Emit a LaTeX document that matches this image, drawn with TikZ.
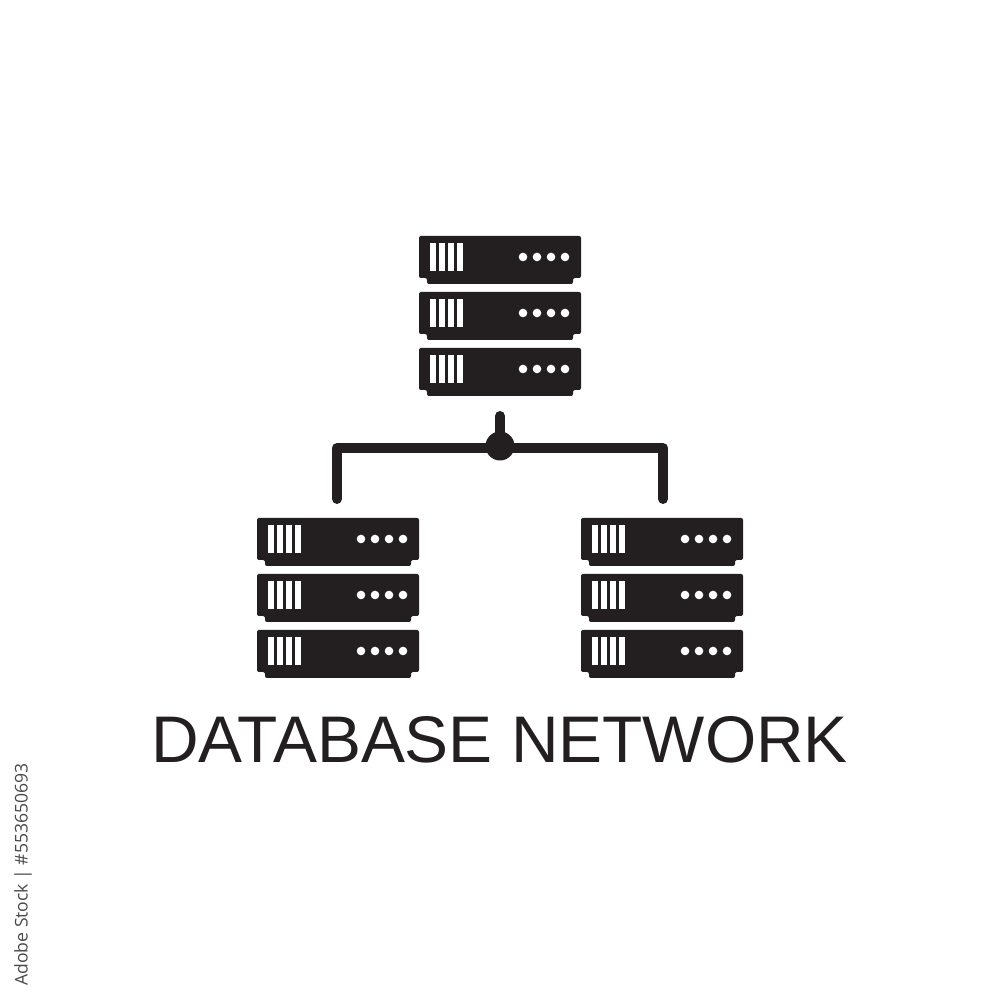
\documentclass[tikz,border=0pt]{standalone}
\usepackage{fontspec}
\setmainfont{Liberation Sans}
\newfontfamily\idfont{Open Sans}
\definecolor{rackblack}{HTML}{231F20}
\definecolor{idgrey}{HTML}{4A4A4A}
\tikzset{
  link/.style = {rackblack, line width=1mm, line cap=round, line join=round},
  rackunit/.pic = {
    \fill[rackblack, rounded corners=0.2mm] (0,0) -- (1.62,0) -- (1.62,-0.42) -- (1.54,-0.42)
      -- (1.54,-0.48) -- (0.08,-0.48) -- (0.08,-0.42) -- (0,-0.42) -- cycle;
    \fill[white] (0.105,-0.07) rectangle (0.165,-0.35);
    \fill[white] (0.195,-0.07) rectangle (0.255,-0.35);
    \fill[white] (0.285,-0.07) rectangle (0.345,-0.35);
    \fill[white] (0.375,-0.07) rectangle (0.435,-0.35);
    \fill[white] (1.04,-0.21) circle (0.043);
    \fill[white] (1.18,-0.21) circle (0.043);
    \fill[white] (1.32,-0.21) circle (0.043);
    \fill[white] (1.46,-0.21) circle (0.043);
  }
}
\begin{document}
\begin{tikzpicture}
\useasboundingbox (0,0) rectangle (10,10);
\fill[white] (0,0) rectangle (10,10);

% top stack
\pic at (4.19,7.64) {rackunit};
\pic at (4.19,7.08) {rackunit};
\pic at (4.19,6.52) {rackunit};

% left stack
\pic at (2.57,4.82) {rackunit};
\pic at (2.57,4.26) {rackunit};
\pic at (2.57,3.70) {rackunit};

% right stack
\pic at (5.81,4.82) {rackunit};
\pic at (5.81,4.26) {rackunit};
\pic at (5.81,3.70) {rackunit};

% connectors
\coordinate (stemtop) at (5,5.84);
\coordinate (hub) at (5,5.54);
\coordinate (bar) at (5,5.52);
\coordinate (leftend) at (3.37,5.01);
\coordinate (rightend) at (6.63,5.01);
\draw[link] (stemtop) -- (hub);
\draw[link] (leftend) |- (bar) -| (rightend);
\fill[rackblack] (hub) circle (0.145);

\node[rackblack, font=\fontsize{18.75}{18.75}\selectfont] (title) at (4.995,2.6) {DATABASE NETWORK};
\node[idgrey, rotate=90, anchor=west, font=\idfont\fontsize{5}{5}\selectfont] (stockid) at (0.23,0.02) {Adobe Stock | \#553650693};
\end{tikzpicture}
\end{document}
